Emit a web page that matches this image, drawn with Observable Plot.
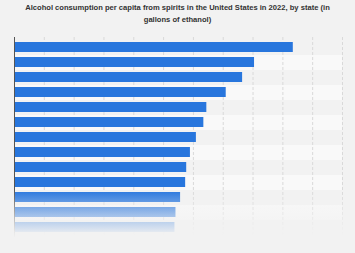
<!DOCTYPE html>
<html>
<head>
<meta charset="utf-8">
<script src="https://cdn.jsdelivr.net/npm/d3@7"></script>
<script src="https://cdn.jsdelivr.net/npm/@observablehq/plot@0.6"></script>
<style>
  html, body { margin: 0; padding: 0; background: #f2f2f2; }
  #wrap { position: relative; width: 355px; height: 253px; overflow: hidden; background: #f2f2f2; }
  #title { position: absolute; top: 2px; left: 0; width: 355px; text-align: center;
    font-family: "Liberation Sans", Arial, sans-serif; font-weight: bold; font-size: 7.6px;
    line-height: 11.5px; color: #333; }
  #chart { position: absolute; top: 30px; left: 0; }
  #fade { position: absolute; left: 0; top: 190px; width: 355px; height: 63px;
    background: linear-gradient(to bottom, rgba(242,242,242,0) 0%, rgba(242,242,242,0.6) 40%, rgba(242,242,242,0.92) 66%, rgba(242,242,242,1) 76%); }
</style>
</head>
<body>
<div id="wrap">
  <div id="title">Alcohol consumption per capita from spirits in the United States in 2022, by state (in<br>gallons of ethanol)</div>
  <div id="chart"></div>
  <div id="fade"></div>
</div>
<script>
const states = ["New Hampshire", "Delaware", "District of Columbia", "Nevada", "Vermont", "Idaho",
  "Montana", "North Dakota", "Colorado", "Wyoming", "Alaska", "Minnesota", "Maine"];
const gallons = [1.87, 1.61, 1.53, 1.42, 1.29, 1.27, 1.22, 1.18, 1.155, 1.148, 1.114, 1.083, 1.076];
const xTicks = [0, 0.2, 0.4, 0.6, 0.8, 1.0, 1.2, 1.4, 1.6, 1.8, 2.0, 2.2];

const data = states.map((s, i) => ({state: s, value: gallons[i], idx: i}));

const chart = Plot.plot({
  width: 355,
  height: 223,
  marginTop: 7,
  marginBottom: 16,
  marginLeft: 14,
  marginRight: 13,
  style: {background: "transparent"},
  x: {domain: [0, 2.2], axis: null},
  y: {domain: states, padding: 0, axis: null},
  marks: [
    Plot.barX(data, {y: "state", x1: 0, x2: 2.2, fill: d => d.idx % 2 ? "#f9f9f9" : "#f2f2f2"}),
    Plot.ruleX(xTicks.slice(1), {stroke: "#d9d9d9", strokeWidth: 1, strokeDasharray: "3,2"}),
    Plot.barX(data, {y: "state", x: "value", fill: "#2876dd", insetTop: 2, insetBottom: 3}),
    Plot.ruleX([0], {stroke: "#555", strokeWidth: 1})
  ]
});
document.getElementById("chart").appendChild(chart);
</script>
</body>
</html>
